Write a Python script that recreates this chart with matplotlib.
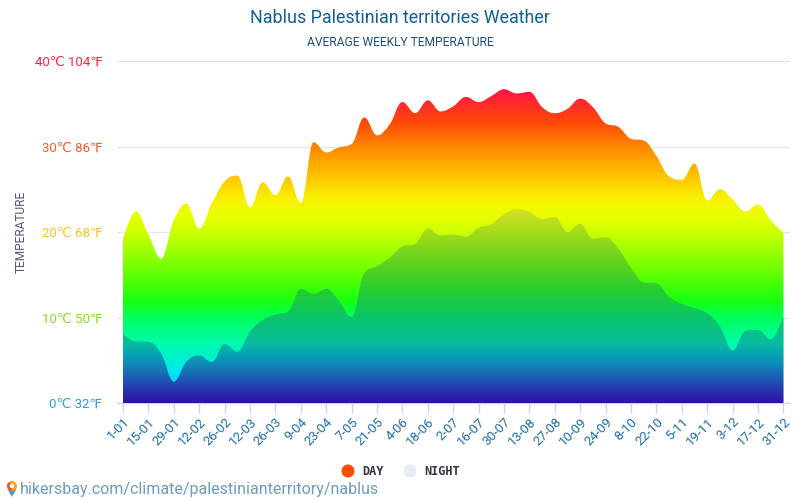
import numpy as np
import matplotlib
matplotlib.use("Agg")
import matplotlib.pyplot as plt
from matplotlib.path import Path
from matplotlib.patches import PathPatch, Circle, Polygon, Wedge

plt.rcParams['font.family'] = ['Roboto', 'DejaVu Sans']

tick_labels = ['1-01','15-01','29-01','12-02','26-02','12-03','26-03','9-04','23-04','7-05','21-05','4-06',
               '18-06','2-07','16-07','30-07','13-08','27-08','10-09','24-09','8-10','22-10','5-11','19-11',
               '3-12','17-12','31-12']
day = [19.2,22.4,19.7,16.9,21.4,23.3,20.4,23.4,25.9,26.6,22.9,25.8,24.3,26.5,23.4,30.5,29.3,29.9,30.3,33.4,
       31.3,32.6,35.2,33.9,35.4,34.1,34.7,35.8,35.2,35.9,36.7,36.2,36.4,34.6,33.9,34.4,35.6,34.6,32.7,32.3,
       30.9,30.7,28.9,26.5,26.1,28.0,23.7,25.0,23.8,22.4,23.2,21.4,19.9]
night = [8.05,7.2,7.15,5.8,2.5,4.85,5.55,4.8,6.9,6.0,8.35,9.7,10.35,10.7,13.35,12.8,13.35,11.95,10.05,15.2,
         16.0,17.0,18.3,18.6,20.4,19.6,19.7,19.45,20.5,20.9,22.1,22.65,22.35,21.55,21.75,20.0,20.95,19.2,19.4,18.05,
         15.8,14.1,14.0,12.4,11.6,11.1,10.5,8.95,6.15,8.4,8.55,7.45,10.1]
y_ticks = [0, 10, 20, 30, 40]
y_labels = ['0℃ 32℉', '10℃ 50℉', '20℃ 68℉', '30℃ 86℉', '40℃ 104℉']
y_colors = ['#2f9fe0', '#86e01e', '#ffc21f', '#ff5a26', '#ff2340']

day_stops = [0, 2.5, 4, 7, 10, 12, 16, 20, 22, 24, 26, 28, 30, 33, 36.7]
day_rgb = [(0,200,255),(0,215,255),(0,235,235),(0,250,170),(0,255,90),(25,255,15),(120,255,0),(205,255,0),
           (235,255,0),(248,240,0),(255,205,0),(255,170,0),(255,135,0),(255,70,10),(255,20,70)]
night_stops = [0, 1.5, 3, 5, 7, 10, 13, 16, 20, 22.7]
night_rgb = [(50,15,165),(40,50,175),(30,95,180),(10,150,185),(8,188,160),(10,197,105),(35,205,50),(90,210,30),
             (165,220,25),(215,225,35)]


def spline_path(values):
    """Closed area path under a Highcharts-style smoothed spline."""
    v = np.asarray(values, float)
    n = len(v)
    x = np.arange(n, dtype=float)
    verts = [(0, 0), (0, v[0])]
    codes = [Path.MOVETO, Path.LINETO]
    s = 1.5
    d = s + 1
    L = np.zeros((n, 2))
    R = np.zeros((n, 2))
    L[:, 0], L[:, 1] = x, v
    R[:, 0], R[:, 1] = x, v
    for i in range(1, n - 1):
        lx = (s * x[i] + x[i - 1]) / d
        ly = (s * v[i] + v[i - 1]) / d
        rx = (s * x[i] + x[i + 1]) / d
        ry = (s * v[i] + v[i + 1]) / d
        c = (ry - ly) * (rx - x[i]) / (rx - lx) + v[i] - ry
        ly += c
        ry += c
        if ly > v[i - 1] and ly > v[i]:
            ly = max(v[i - 1], v[i]); ry = 2 * v[i] - ly
        elif ly < v[i - 1] and ly < v[i]:
            ly = min(v[i - 1], v[i]); ry = 2 * v[i] - ly
        if ry > v[i + 1] and ry > v[i]:
            ry = max(v[i + 1], v[i]); ly = 2 * v[i] - ry
        elif ry < v[i + 1] and ry < v[i]:
            ry = min(v[i + 1], v[i]); ly = 2 * v[i] - ry
        L[i] = lx, ly
        R[i] = rx, ry
    for i in range(1, n):
        verts += [tuple(R[i - 1]), tuple(L[i]), (x[i], v[i])]
        codes += [Path.CURVE4] * 3
    verts += [(x[-1], 0), (0, 0)]
    codes += [Path.LINETO, Path.CLOSEPOLY]
    return Path(verts, codes)


def gradient(stops, rgb, top):
    vals = np.linspace(top, 0, 512)
    arr = np.array(rgb, float) / 255
    img = np.stack([np.interp(vals, stops, arr[:, k]) for k in range(3)], axis=1)
    return img[:, None, :]


def area(ax, values, stops, rgb, z):
    top = max(values)
    patch = PathPatch(spline_path(values), transform=ax.transData, fc='none', ec='none')
    ax.add_patch(patch)
    im = ax.imshow(gradient(stops, rgb, top), extent=(0, len(values) - 1, 0, top), aspect='auto',
                   interpolation='bilinear', zorder=z)
    im.set_clip_path(patch)


fig = plt.figure(figsize=(8, 5), dpi=100, facecolor='white')
L_, R_, T_, B_ = 117, 790, 61, 403
ax = fig.add_axes([L_ / 800, 1 - B_ / 500, (R_ - L_) / 800, (B_ - T_) / 500])

area(ax, day, day_stops, day_rgb, 2)
area(ax, night, night_stops, night_rgb, 3)

step = 12.7
ax.set_xlim((L_ - 123) / step, (R_ - 123) / step)
ax.set_ylim(0, 40)
for s in ('top', 'left', 'right'):
    ax.spines[s].set_visible(False)
ax.spines['bottom'].set_color('#ccd6eb')
ax.spines['bottom'].set_linewidth(1)
ax.set_axisbelow(True)
ax.yaxis.grid(True, color='#e6e6e6', lw=1)

ax.set_xticks(np.arange(len(tick_labels)) * 2)
ax.set_xticklabels(tick_labels, rotation=45, ha='right', va='top', rotation_mode='anchor',
                   fontsize=9.5, color='#1f6ea8')
ax.tick_params(axis='x', length=7.2, width=1, color='#ccd6eb', pad=1.5)
ax.set_yticks(y_ticks)
ax.set_yticklabels(y_labels, fontsize=9.5)
ax.tick_params(axis='y', length=0, pad=10.5)
for lab, c in zip(ax.get_yticklabels(), y_colors):
    lab.set_color(c)


def px(x, y):
    return x / 800, 1 - y / 500


fig.text(*px(400, 18), 'Nablus Palestinian territories Weather', ha='center', va='center', fontsize=12.9, color='#115f95')
fig.text(*px(400, 42), 'AVERAGE WEEKLY TEMPERATURE', ha='center', va='center', fontsize=8.65, color='#1c4f7c')
fig.text(*px(21, 232), 'TEMPERATURE', rotation=90, ha='center', va='center', fontsize=8.6, color='#4d5b73')

overlay = fig.add_axes([0, 0, 1, 1], facecolor='none')
overlay.set_xlim(0, 800)
overlay.set_ylim(500, 0)
overlay.axis('off')
overlay.add_patch(Circle((348, 471), 6.5, color='#ff4d00', lw=0))
overlay.add_patch(Circle((410, 471), 6.5, color='#e6ecf3', lw=0))
overlay.text(362, 471.5, 'DAY', family='DejaVu Sans Mono', weight='bold', fontsize=8.6, color='#333344', va='center')
overlay.text(424, 471.5, 'NIGHT', family='DejaVu Sans Mono', weight='bold', fontsize=8.6, color='#333344', va='center')
overlay.text(20, 489.5, 'hikersbay.com/climate/palestinianterritory/nablus', fontsize=11.5, color='#6c9cbd', va='center')
overlay.add_patch(Polygon([(7.5, 489), (16.5, 489), (12, 497)], color='#3f9fc0', lw=0))
overlay.add_patch(Circle((12, 486), 5, color='#f5a623', lw=0))
overlay.add_patch(Wedge((12, 486), 5, 90, 230, color='#f0553a', lw=0))
overlay.add_patch(Circle((12, 486), 2.2, color='white', lw=0))

fig.savefig('out.png', dpi=100)
